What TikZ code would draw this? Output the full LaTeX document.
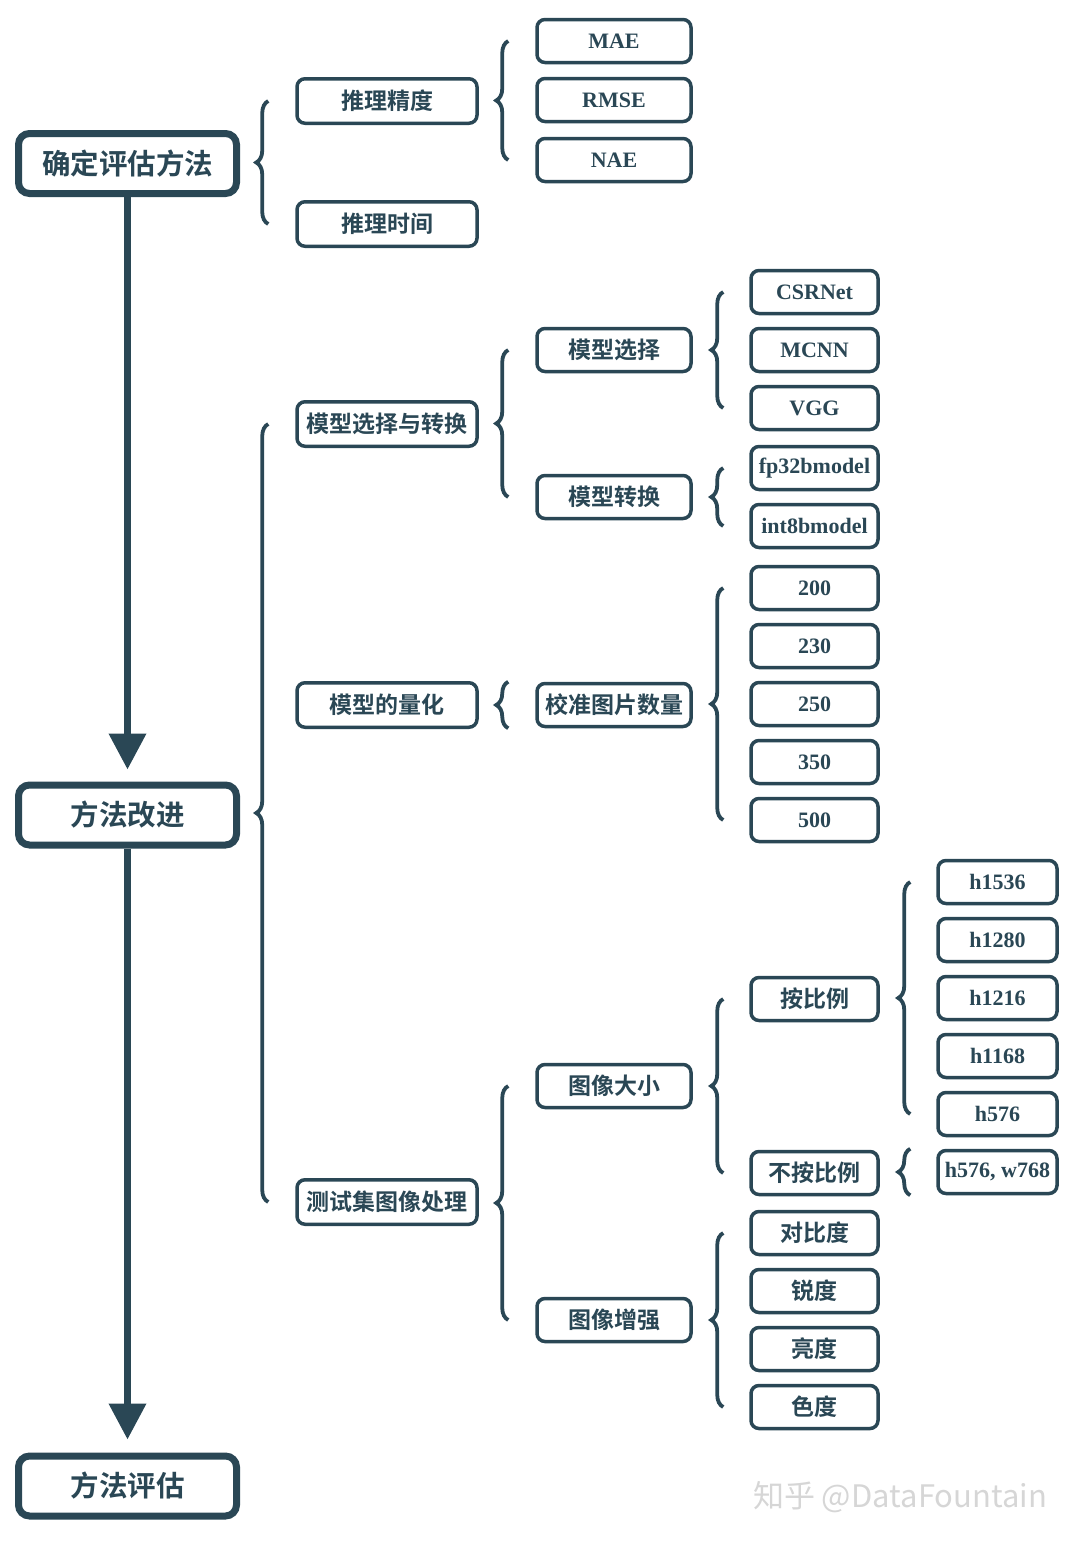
\documentclass[tikz,border=0pt]{standalone}
\usepackage{fontspec}
\setmainfont{Liberation Serif}
\newfontfamily\cjkbold{Noto Sans CJK SC Bold}
\newfontfamily\cjkmark{Noto Sans CJK SC}
\usepackage{tikz}
\usetikzlibrary{arrows.meta, positioning, calc, decorations.pathreplacing}
\definecolor{planink}{HTML}{2A4755}
\definecolor{planmark}{HTML}{D6D6D6}
\tikzset{
  mainbox/.style={draw=planink, line width=7pt, rounded corners=11pt, fill=white,
                  minimum width=218pt, minimum height=60pt, inner sep=0pt,
                  text=planink, font=\fontsize{28.5}{30}\selectfont\cjkbold},
  subbox/.style={draw=planink, line width=3.5pt, rounded corners=8pt, fill=white,
                 minimum height=43pt, inner sep=0pt,
                 text=planink, font=\fontsize{23}{25}\selectfont\cjkbold},
  lvltwo/.style={subbox, minimum width=180pt, minimum height=44.5pt},
  lvlthree/.style={subbox, minimum width=154pt},
  lvlfour/.style={subbox, minimum width=127pt},
  lvlfive/.style={subbox, minimum width=119pt},
  latin/.style={font=\fontsize{22}{24}\selectfont\bfseries},
  brc/.style={draw=planink, line width=3.8pt, decorate,
              decoration={brace, amplitude=12pt}},
  flow/.style={draw=planink, line width=7pt,
               -{Triangle[width=36pt, length=36pt]}},
}
\begin{document}
\begin{tikzpicture}[x=1pt, y=-1pt]
  \useasboundingbox (0,0) rectangle (1080,1542);
  % main column
  \node[mainbox] (fix)  at (127.5,163.5) {确定评估方法};
  \node[mainbox] (impr) at (127.5,815)   {方法改进};
  \node[mainbox] (eval) at (127.5,1486)  {方法评估};
  \draw[flow, shorten >=12pt] (fix) -- (impr);
  \draw[flow, shorten >=13pt] (impr) -- (eval);

  % second level
  \node[lvltwo] (acc)   at (387,101)  {推理精度};
  \node[lvltwo] (tim)   at (387,224)  {推理时间};
  \node[lvltwo] (msel)  at (387,424)  {模型选择与转换};
  \node[lvltwo] (quant) at (387,705)  {模型的量化};
  \node[lvltwo] (tproc) at (387,1202) {测试集图像处理};

  % third level
  \node[lvlthree, latin] (mae)  at (614,41)  {MAE};
  \node[lvlthree, latin] (rmse) at (614,100) {RMSE};
  \node[lvlthree, latin] (nae)  at (614,160) {NAE};
  \node[lvlthree] (choose)  at (614,350)  {模型选择};
  \node[lvlthree] (convert) at (614,497)  {模型转换};
  \node[lvlthree] (calib)   at (614,705)  {校准图片数量};
  \node[lvlthree] (size)    at (614,1086) {图像大小};
  \node[lvlthree] (enh)     at (614,1320) {图像增强};

  % fourth level
  \node[lvlfour, latin] (csr)  at (814.5,292) {CSRNet};
  \node[lvlfour, latin] (mcnn) at (814.5,350) {MCNN};
  \node[lvlfour, latin] (vgg)  at (814.5,408) {VGG};
  \node[lvlfour, latin] (fp32) at (814.5,468) {fp32bmodel};
  \node[lvlfour, latin] (int8) at (814.5,526) {int8bmodel};
  \node[lvlfour, latin] (n200) at (814.5,588) {200};
  \node[lvlfour, latin] (n230) at (814.5,646) {230};
  \node[lvlfour, latin] (n250) at (814.5,704) {250};
  \node[lvlfour, latin] (n350) at (814.5,762) {350};
  \node[lvlfour, latin] (n500) at (814.5,820) {500};
  \node[lvlfour] (ratio)    at (814.5,999)  {按比例};
  \node[lvlfour] (noratio)  at (814.5,1173) {不按比例};
  \node[lvlfour] (contrast) at (814.5,1233) {对比度};
  \node[lvlfour] (sharp)    at (814.5,1291) {锐度};
  \node[lvlfour] (bright)   at (814.5,1349) {亮度};
  \node[lvlfour] (hue)      at (814.5,1407) {色度};

  % fifth level
  \node[lvlfive, latin] (h1536) at (997.5,882)  {h1536};
  \node[lvlfive, latin] (h1280) at (997.5,940)  {h1280};
  \node[lvlfive, latin] (h1216) at (997.5,998)  {h1216};
  \node[lvlfive, latin] (h1168) at (997.5,1056) {h1168};
  \node[lvlfive, latin] (h576)  at (997.5,1114) {h576};
  \node[lvlfive, latin] (hw)    at (997.5,1172) {h576, w768};

  % braces
  \draw[brc] ($(tim.west)+(-27,0)$) -- ($(acc.west)+(-27,0)$);
  \draw[brc] ($(tproc.west)+(-27,0)$) -- ($(msel.west)+(-27,0)$);
  \draw[brc] ($(nae.west)+(-27,0)$) -- ($(mae.west)+(-27,0)$);
  \draw[brc] ($(convert.west)+(-27,0)$) -- ($(choose.west)+(-27,0)$);
  \draw[brc] ($(calib.south west)+(-27,0)$) -- ($(calib.north west)+(-27,0)$);
  \draw[brc] ($(enh.west)+(-27,0)$) -- ($(size.west)+(-27,0)$);
  \draw[brc] ($(vgg.west)+(-26,0)$) -- ($(csr.west)+(-26,0)$);
  \draw[brc] ($(int8.west)+(-26,0)$) -- ($(fp32.west)+(-26,0)$);
  \draw[brc] ($(n500.west)+(-26,0)$) -- ($(n200.west)+(-26,0)$);
  \draw[brc] ($(noratio.west)+(-26,0)$) -- ($(ratio.west)+(-26,0)$);
  \draw[brc] ($(hue.west)+(-26,0)$) -- ($(contrast.west)+(-26,0)$);
  \draw[brc] ($(h576.west)+(-26,0)$) -- ($(h1536.west)+(-26,0)$);
  \draw[brc] ($(hw.south west)+(-26,0)$) -- ($(hw.north west)+(-26,0)$);

  % watermark
  \node[text=planmark, font=\fontsize{31}{33}\selectfont\cjkmark] (mark)
    at (900,1497) {知乎 @DataFountain};
\end{tikzpicture}
\end{document}
